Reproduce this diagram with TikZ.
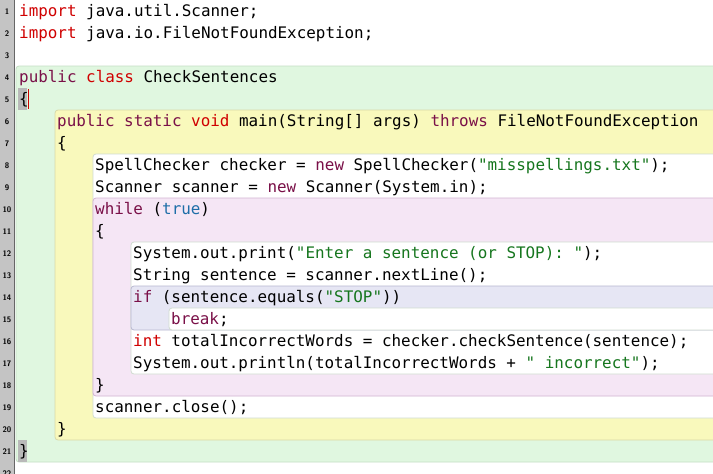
\documentclass[tikz,border=0pt]{standalone}
\usepackage{fontspec}
\setmonofont{DejaVu Sans Mono}
\setmainfont{DejaVu Sans}
\definecolor{kwm}{HTML}{7A1048}
\definecolor{kwr}{HTML}{D00000}
\definecolor{kwb}{HTML}{1E6EA8}
\definecolor{strg}{HTML}{16761E}
\definecolor{gfill}{HTML}{E0F7E0}
\definecolor{gdraw}{HTML}{C4DEC4}
\definecolor{yfill}{HTML}{F9F9BC}
\definecolor{ydraw}{HTML}{D9D9A8}
\definecolor{pfill}{HTML}{F5E6F5}
\definecolor{pdraw}{HTML}{D2B4D2}
\definecolor{bfill}{HTML}{E6E6F4}
\definecolor{bdraw}{HTML}{B8B8D0}
\definecolor{wdraw}{HTML}{D0DCD0}
\definecolor{gut}{HTML}{C4C4C4}
\newcommand{\KWM}[1]{\textcolor{kwm}{#1}}
\newcommand{\KWR}[1]{\textcolor{kwr}{#1}}
\newcommand{\KWB}[1]{\textcolor{kwb}{#1}}
\newcommand{\STRG}[1]{\textcolor{strg}{#1}}
\begin{document}
\begin{tikzpicture}[x=1pt,y=-1pt,
  code/.style={anchor=base west,inner sep=0pt,font=\ttfamily\fontsize{15.9}{16}\selectfont},
  lnum/.style={anchor=base,inner sep=0pt,font=\sffamily\bfseries\fontsize{8}{8}\selectfont},
  scopebox/.style={rounded corners=3pt,line width=0.8pt}]
\useasboundingbox (0,0) rectangle (713,474);
\fill[white] (0,0) rectangle (713,474);
% scopes
\draw[scopebox,fill=gfill,draw=gdraw] (16,66) rectangle (760,462);
\draw[scopebox,fill=yfill,draw=ydraw] (55,110) rectangle (760,440);
\draw[scopebox,fill=white,draw=wdraw] (93,154) rectangle (760,418);
\draw[scopebox,fill=pfill,draw=pdraw] (93,198) rectangle (760,396);
\draw[scopebox,fill=white,draw=wdraw] (131,242) rectangle (760,374);
\draw[scopebox,fill=bfill,draw=bdraw] (131,286) rectangle (760,330);
\draw[scopebox,fill=white,draw=wdraw] (169,308) rectangle (760,330);
% cursor highlights
\fill[gray!55] (18,88) rectangle (27,110);
\draw[kwr,line width=0.8pt] (28,89) -- (28,109);
\fill[gray!55] (18,440) rectangle (27,462);
% gutter
\fill[gut] (0,0) rectangle (14,474);
\draw[gray!80!black,line width=0.6pt] (14.5,0) -- (14.5,474);
\foreach \n in {1,...,22} \node[lnum] (n\n) at (7,{22*(\n-1)+14}) {\n};
% code
\node[code] (l1) at (19,16) {\KWR{import} java.util.Scanner;};
\node[code] (l2) at (19,38) {\KWR{import} java.io.FileNotFoundException;};
\node[code] (l4) at (19,82) {\KWM{public} \KWR{class} CheckSentences};
\node[code] (l5) at (19,104) {\{};
\node[code] (l6) at (57,126) {\KWM{public} \KWM{static} \KWR{void} main(String[] args) \KWM{throws} FileNotFoundException};
\node[code] (l7) at (57,148) {\{};
\node[code] (l8) at (95,170) {SpellChecker checker = \KWM{new} SpellChecker(\STRG{"misspellings.txt"});};
\node[code] (l9) at (95,192) {Scanner scanner = \KWM{new} Scanner(System.in);};
\node[code] (l10) at (95,214) {\KWM{while} (\KWB{true})};
\node[code] (l11) at (95,236) {\{};
\node[code] (l12) at (133,258) {System.out.print(\STRG{"Enter a sentence (or STOP): "});};
\node[code] (l13) at (133,280) {String sentence = scanner.nextLine();};
\node[code] (l14) at (133,302) {\KWM{if} (sentence.equals(\STRG{"STOP"}))};
\node[code] (l15) at (171,324) {\KWM{break};};
\node[code] (l16) at (133,346) {\KWR{int} totalIncorrectWords = checker.checkSentence(sentence);};
\node[code] (l17) at (133,368) {System.out.println(totalIncorrectWords + \STRG{" incorrect"});};
\node[code] (l18) at (95,390) {\}};
\node[code] (l19) at (95,412) {scanner.close();};
\node[code] (l20) at (57,434) {\}};
\node[code] (l21) at (19,456) {\}};
\end{tikzpicture}
\end{document}
